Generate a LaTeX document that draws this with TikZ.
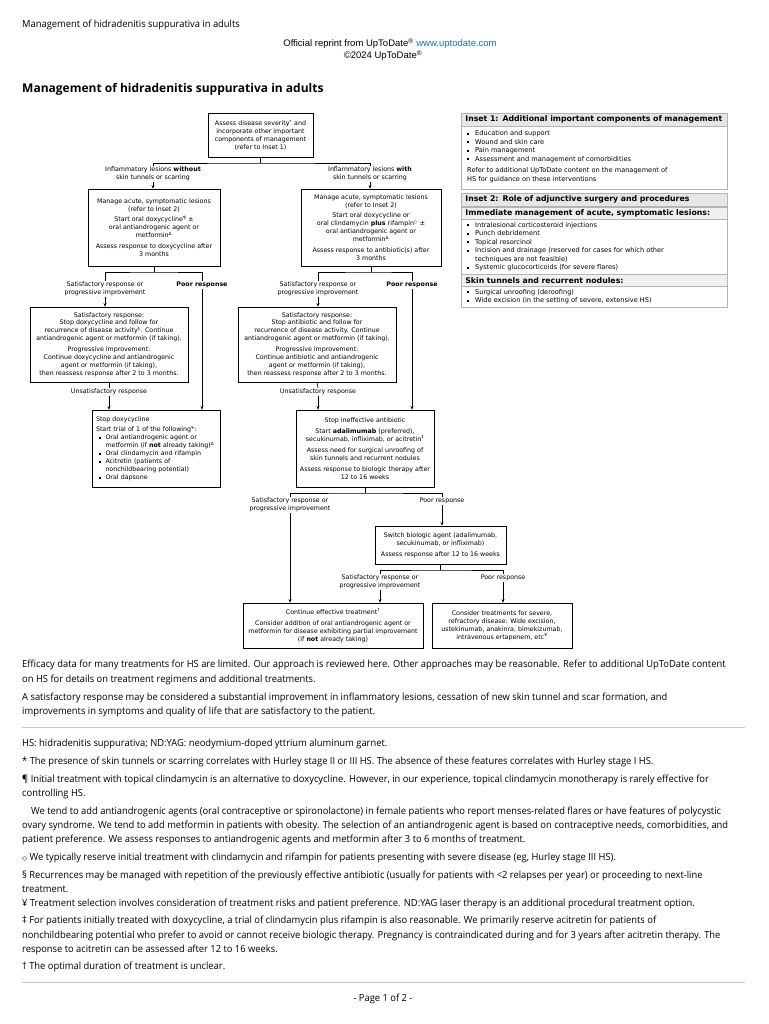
\documentclass[tikz,border=0pt]{standalone}
\usepackage{fontspec}
\setmainfont{Open Sans}
\newfontfamily\bodyfont[FakeStretch=0.955]{Open Sans}
\newfontfamily\flowfont{DejaVu Sans}
\newfontfamily\reprintfont{Liberation Sans}
\usetikzlibrary{arrows.meta}

\definecolor{insetgray}{HTML}{B4B4B4}
\definecolor{headgray}{HTML}{E6E6E6}
\definecolor{subgray}{HTML}{F0F0F0}
\definecolor{rulegray}{HTML}{C8C8C8}
\definecolor{linkblue}{HTML}{1A6FB5}

\newcommand{\flowsize}{\flowfont\fontsize{6.3}{7.9}\selectfont}
\newcommand{\insetsize}{\flowfont\fontsize{6.6}{8.5}\selectfont}
\newcommand{\insethdr}{\flowfont\bfseries\fontsize{7.8}{9}\selectfont}
\newcommand{\bodysize}{\bodyfont\fontsize{9.8}{14}\selectfont}
\newcommand{\sy}[1]{\textsuperscript{#1}}
\newcommand{\bul}{\makebox[6.5pt][l]{\raisebox{0.8pt}{\rule{2pt}{2pt}}}}
\newcommand{\ibul}{\makebox[8pt][l]{\raisebox{0.9pt}{\rule{2.2pt}{2.2pt}}}}

\tikzset{
  flowbox/.style={draw, line width=0.7pt, align=center, font=\flowsize, inner sep=1pt},
  flowlbl/.style={align=center, font=\flowsize, inner sep=1pt, anchor=north},
  link/.style={line width=0.6pt},
  arrowlink/.style={link, -{Stealth[length=3.5pt, width=3pt]}},
  insetframe/.style={draw=insetgray, line width=0.7pt, anchor=north west, minimum width=266pt, inner sep=0pt},
  insethead/.style={draw=insetgray, fill=headgray, line width=0.7pt, anchor=north west, minimum height=13pt, text width=258pt, inner xsep=4pt, inner ysep=0pt, align=left, font=\insethdr},
  insetsub/.style={insethead, fill=subgray, minimum height=12pt},
  insettext/.style={anchor=north west, align=left, font=\insetsize, inner sep=0pt},
  bodyline/.style={anchor=base west, inner sep=0pt, font=\bodysize}
}

\begin{document}
\begin{tikzpicture}[x=1pt, y=-1pt]
  \fill[white] (0,0) rectangle (768,1024);
  \useasboundingbox (0,0) rectangle (768,1024);

  % page header
  \node[anchor=base west, inner sep=0pt, font=\bodyfont\fontsize{9.8}{12}\selectfont] (pagehead) at (22,28) {Management of hidradenitis suppurativa in adults};
  \node[anchor=base, inner sep=0pt, font=\reprintfont\fontsize{9.5}{11}\selectfont] (reprint) at (390,47) {Official reprint from UpToDate\sy{®} \textcolor{linkblue}{www.uptodate.com}};
  \node[anchor=base, inner sep=0pt, font=\reprintfont\fontsize{9.5}{11}\selectfont] (copyr) at (383,59) {©2024 UpToDate\sy{®}};
  \node[anchor=base west, inner sep=0pt, font=\bfseries\fontsize{12}{14}\selectfont] (title) at (22,93) {Management of hidradenitis suppurativa in adults};

  % flowchart boxes
  \node[flowbox, minimum width=105pt, minimum height=44pt] (assess) at (260.5,135) {Assess disease severity\sy{*} and\\incorporate other important\\components of management\\(refer to Inset 1)};
  \node[flowbox, minimum width=132pt, minimum height=77pt] (mildbox) at (154,227.5) {Manage acute, symptomatic lesions\\(refer to Inset 2)\\[3pt]Start oral doxycycline\sy{¶} ±\\oral antiandrogenic agent or\\metformin\sy{∆}\\[3pt]Assess response to doxycycline after\\3 months};
  \node[flowbox, minimum width=140pt, minimum height=77pt] (sevbox) at (371,227.5) {Manage acute, symptomatic lesions\\(refer to Inset 2)\\[3pt]Start oral doxycycline or\\oral clindamycin \textbf{plus} rifampin\sy{◇} ±\\oral antiandrogenic agent or\\metformin\sy{∆}\\[3pt]Assess response to antibiotic(s) after\\3 months};
  \node[flowbox, minimum width=158pt, minimum height=75pt] (mildsat) at (109,344.5) {Satisfactory response:\\Stop doxycycline and follow for\\recurrence of disease activity\sy{§}. Continue\\antiandrogenic agent or metformin (if taking).\\[3pt]Progressive improvement:\\Continue doxycycline and antiandrogenic\\agent or metformin (if taking),\\then reassess response after 2 to 3 months.};
  \node[flowbox, minimum width=158pt, minimum height=75pt] (sevsat) at (317,344.5) {Satisfactory response:\\Stop antibiotic and follow for\\recurrence of disease activity. Continue\\antiandrogenic agent or metformin (if taking).\\[3pt]Progressive improvement:\\Continue antibiotic and antiandrogenic\\agent or metformin (if taking),\\then reassess response after 2 to 3 months.};
  \node[flowbox, minimum height=77pt, text width=120pt, inner xsep=4pt, align=left] (stopdoxy) at (156,448.5) {Stop doxycycline\\[3pt]Start trial of 1 of the following\sy{¥}:\\\hspace*{3pt}\bul Oral antiandrogenic agent or\\\hspace*{9.5pt}metformin (if \textbf{not} already taking)\sy{∆}\\\hspace*{3pt}\bul Oral clindamycin and rifampin\\\hspace*{3pt}\bul Acitretin (patients of\\\hspace*{9.5pt}nonchildbearing potential)\\\hspace*{3pt}\bul Oral dapsone};
  \node[flowbox, minimum width=138pt, minimum height=77pt] (stopanti) at (365,448.5) {Stop ineffective antibiotic\\[3pt]Start \textbf{adalimumab} (preferred),\\secukinumab, infliximab, or acitretin\sy{‡}\\[3pt]Assess need for surgical unroofing of\\skin tunnels and recurrent nodules\\[3pt]Assess response to biologic therapy after\\12 to 16 weeks};
  \node[flowbox, minimum width=131pt, minimum height=38pt] (switch) at (440.5,545) {Switch biologic agent (adalimumab,\\secukinumab, or infliximab)\\[3pt]Assess response after 12 to 16 weeks};
  \node[flowbox, minimum width=180pt, minimum height=45pt] (contin) at (333,625.5) {Continue effective treatment\sy{†}\\[3pt]Consider addition of oral antiandrogenic agent or\\metformin for disease exhibiting partial improvement\\(if \textbf{not} already taking)};
  \node[flowbox, minimum width=140pt, minimum height=45pt] (refract) at (502,625.5) {Consider treatments for severe,\\refractory disease: Wide excision,\\ustekinumab, anakinra, bimekizumab,\\intravenous ertapenem, etc\sy{¥}};

  % branch labels
  \node[flowlbl] (notun) at (153,166) {Inflammatory lesions \textbf{without}\\skin tunnels or scarring};
  \node[flowlbl] (withtun) at (370,166) {Inflammatory lesions \textbf{with}\\skin tunnels or scarring};
  \node[flowlbl] (mildok) at (105,281) {Satisfactory response or\\progressive improvement};
  \node[flowlbl] (mildpoor) at (202,281) {\textbf{Poor response}};
  \node[flowlbl] (sevok) at (318,281) {Satisfactory response or\\progressive improvement};
  \node[flowlbl] (sevpoor) at (412,281) {\textbf{Poor response}};
  \node[flowlbl] (mildfail) at (109,388) {Unsatisfactory response};
  \node[flowlbl] (sevfail) at (318,388) {Unsatisfactory response};
  \node[flowlbl] (biook) at (290,497) {Satisfactory response or\\progressive improvement};
  \node[flowlbl] (biopoor) at (442,497) {Poor response};
  \node[flowlbl] (swok) at (380,574) {Satisfactory response or\\progressive improvement};
  \node[flowlbl] (swpoor) at (503,574) {Poor response};

  % split points
  \coordinate (splitA) at (260.5,163);
  \coordinate (splitB) at (154,272);
  \coordinate (splitC) at (371,272);
  \coordinate (splitG) at (365,493);
  \coordinate (splitI) at (440.5,570);

  % connectors
  \draw[link] (assess.south) -- (splitA);
  \draw[link] (notun.north) |- (splitA) -| (withtun.north);
  \draw[arrowlink] (notun.south) -- (mildbox.north -| notun.south);
  \draw[arrowlink] (withtun.south) -- (sevbox.north -| withtun.south);
  \draw[link] (mildbox.south) -- (splitB);
  \draw[link] (mildok.north) |- (splitB) -| (mildpoor.north);
  \draw[link] (sevbox.south) -- (splitC);
  \draw[link] (sevok.north) |- (splitC) -| (sevpoor.north);
  \draw[arrowlink] (mildok.south) -- (mildsat.north -| mildok.south);
  \draw[arrowlink] (sevok.south) -- (sevsat.north -| sevok.south);
  \draw[link] (mildsat.south) -- (mildfail.north);
  \draw[link] (sevsat.south) -- (sevfail.north);
  \draw[arrowlink] (mildfail.south) -- (stopdoxy.north -| mildfail.south);
  \draw[arrowlink] (mildpoor.south) -- (stopdoxy.north -| mildpoor.south);
  \draw[arrowlink] (sevfail.south) -- (stopanti.north -| sevfail.south);
  \draw[arrowlink] (sevpoor.south) -- (stopanti.north -| sevpoor.south);
  \draw[link] (stopanti.south) -- (splitG);
  \draw[link] (biook.north) |- (splitG) -| (biopoor.north);
  \draw[arrowlink] (biook.south) -- (contin.north -| biook.south);
  \draw[arrowlink] (biopoor.south) -- (switch.north -| biopoor.south);
  \draw[link] (switch.south) -- (splitI);
  \draw[link] (swok.north) |- (splitI) -| (swpoor.north);
  \draw[arrowlink] (swok.south) -- (contin.north -| swok.south);
  \draw[arrowlink] (swpoor.south) -- (refract.north -| swpoor.south);

  % inset 1
  \node[insetframe, minimum height=76pt] (inset1) at (461,113) {};
  \node[insethead] (inset1head) at (inset1.north west) {Inset 1: Additional important components of management};
  \node[insettext] (inset1list) at (467,130.5) {\ibul Education and support\\\ibul Wound and skin care\\\ibul Pain management\\\ibul Assessment and management of comorbidities\\[3pt]Refer to additional UpToDate content on the management of\\HS for guidance on these interventions};

  % inset 2
  \node[insetframe, minimum height=114pt] (inset2) at (461,193) {};
  \node[insethead] (inset2head) at (inset2.north west) {Inset 2: Role of adjunctive surgery and procedures};
  \node[insetsub] (inset2acute) at (inset2head.south west) {Immediate management of acute, symptomatic lesions:};
  \node[insettext] (inset2list) at (467,222) {\ibul Intralesional corticosteroid injections\\\ibul Punch debridement\\\ibul Topical resorcinol\\\ibul Incision and drainage (reserved for cases for which other\\\hspace*{8pt}techniques are not feasible)\\\ibul Systemic glucocorticoids (for severe flares)};
  \node[insetsub] (inset2tunnel) at (461,274) {Skin tunnels and recurrent nodules:};
  \node[insettext] (inset2surg) at (467,289) {\ibul Surgical unroofing (deroofing)\\\ibul Wide excision (in the setting of severe, extensive HS)};

  % notes below the chart
  \node[bodyline] (note1a) at (22,667) {Efficacy data for many treatments for HS are limited. Our approach is reviewed here. Other approaches may be reasonable. Refer to additional UpToDate content};
  \node[bodyline] (note1b) at (22,682) {on HS for details on treatment regimens and additional treatments.};
  \node[bodyline] (note2a) at (22,700) {A satisfactory response may be considered a substantial improvement in inflammatory lesions, cessation of new skin tunnel and scar formation, and};
  \node[bodyline] (note2b) at (22,714) {improvements in symptoms and quality of life that are satisfactory to the patient.};
  \draw[rulegray, line width=0.8pt] (22,727) -- (745,727);
  \node[bodyline] (abbr) at (22,746) {HS: hidradenitis suppurativa; ND:YAG: neodymium-doped yttrium aluminum garnet.};
  \node[bodyline] (fnstar) at (22,764) {* The presence of skin tunnels or scarring correlates with Hurley stage II or III HS. The absence of these features correlates with Hurley stage I HS.};
  \node[bodyline] (fnpara) at (22,782) {¶ Initial treatment with topical clindamycin is an alternative to doxycycline. However, in our experience, topical clindamycin monotherapy is rarely effective for};
  \node[bodyline] (fnparb) at (22,796) {controlling HS.};
  \node[bodyline] (fndela) at (31,814) {We tend to add antiandrogenic agents (oral contraceptive or spironolactone) in female patients who report menses-related flares or have features of polycystic};
  \node[bodyline] (fndelb) at (22,828) {ovary syndrome. We tend to add metformin in patients with obesity. The selection of an antiandrogenic agent is based on contraceptive needs, comorbidities, and};
  \node[bodyline] (fndelc) at (22,842) {patient preference. We assess responses to antiandrogenic agents and metformin after 3 to 6 months of treatment.};
  \node[bodyline] (fndia) at (22,860) {{\flowfont\fontsize{6.5}{8}\selectfont ◇} We typically reserve initial treatment with clindamycin and rifampin for patients presenting with severe disease (eg, Hurley stage III HS).};
  \node[bodyline] (fnseca) at (22,878) {§ Recurrences may be managed with repetition of the previously effective antibiotic (usually for patients with <2 relapses per year) or proceeding to next-line};
  \node[bodyline] (fnsecb) at (22,892) {treatment.};
  \node[bodyline] (fnyen) at (22,906) {¥ Treatment selection involves consideration of treatment risks and patient preference. ND:YAG laser therapy is an additional procedural treatment option.};
  \node[bodyline] (fndda) at (22,923) {‡ For patients initially treated with doxycycline, a trial of clindamycin plus rifampin is also reasonable. We primarily reserve acitretin for patients of};
  \node[bodyline] (fnddb) at (22,938) {nonchildbearing potential who prefer to avoid or cannot receive biologic therapy. Pregnancy is contraindicated during and for 3 years after acitretin therapy. The};
  \node[bodyline] (fnddc) at (22,952) {response to acitretin can be assessed after 12 to 16 weeks.};
  \node[bodyline] (fndag) at (22,969) {† The optimal duration of treatment is unclear.};
  \draw[rulegray, line width=0.8pt] (22,982) -- (745,982);
  \node[anchor=base, inner sep=0pt, font=\bodysize] (pagenum) at (383,1001) {- Page 1 of 2 -};
\end{tikzpicture}
\end{document}
